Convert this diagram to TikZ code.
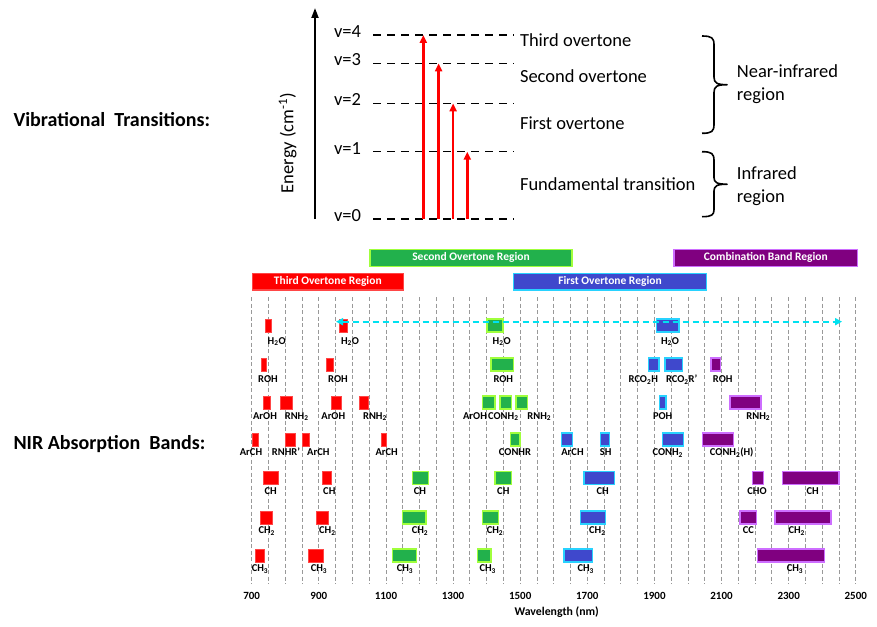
\documentclass[tikz,border=0pt]{standalone}
\usepackage{fontspec}
\setmainfont{Carlito}
\usetikzlibrary{arrows.meta}
\definecolor{bandred}{RGB}{255,0,0}
\definecolor{bandredline}{RGB}{255,70,70}
\definecolor{bandgreen}{RGB}{34,177,76}
\definecolor{bandgreenline}{RGB}{160,255,60}
\definecolor{bandblue}{RGB}{63,72,204}
\definecolor{bandblueline}{RGB}{40,210,255}
\definecolor{bandpurple}{RGB}{128,0,128}
\definecolor{bandpurpleline}{RGB}{205,110,255}
\definecolor{watercyan}{RGB}{0,225,240}

\begin{document}
\begin{tikzpicture}[x=1pt,y=-1pt,
  toptext/.style={inner sep=0pt,font=\fontsize{18.5}{22.7}\selectfont},
  sidelabel/.style={inner sep=0pt,font=\bfseries\fontsize{20}{24}\selectfont},
  level/.style={line width=1.3pt,dash pattern=on 8pt off 6pt},
  trans/.style={red,line width=2.5pt,-{Triangle[length=8pt,width=7pt]}},
  curly/.style={line width=1.6pt,line join=round},
  gridline/.style={gray!80,line width=0.8pt,dash pattern=on 4pt off 2.5pt},
  hdr/.style={line width=1.3pt,inner sep=0pt,text=white,minimum height=16.7pt,
    font=\bfseries\fontsize{11.5}{13}\selectfont},
  redbar/.style={fill=bandred,draw=bandredline,line width=1pt},
  greenbar/.style={fill=bandgreen,draw=bandgreenline,line width=1.3pt},
  bluebar/.style={fill=bandblue,draw=bandblueline,line width=1.3pt},
  purplebar/.style={fill=bandpurple,draw=bandpurpleline,line width=1.3pt},
  lbl/.style={inner sep=0pt,anchor=mid,font=\bfseries\fontsize{10.5}{12}\selectfont},
  ticklabel/.style={inner sep=0pt,anchor=mid,font=\bfseries\fontsize{11}{13}\selectfont}]
\useasboundingbox (0,0) rectangle (877,626);

%SIDE LABELS
\node[sidelabel,anchor=mid west] (vib) at (13.3,124) {Vibrational\ \ Transitions:};
\node[sidelabel,anchor=mid west] (nir) at (13.3,446.7) {NIR Absorption\ \ Bands:};

%ENERGY AXIS
\coordinate (e0) at (315,219);
\coordinate (e1) at (315,8);
\draw[line width=2pt,-{Triangle[length=10pt,width=7pt]}] (e0) -- (e1);
\node[toptext,rotate=90,anchor=mid] (energy) at (291,143) {Energy (cm\textsuperscript{-1})};

%LEVELS
\foreach \y/\v in {219/0,151.7/1,103.3/2,63.3/3,35/4}{
  \node[toptext,anchor=mid] (lv\v) at (347.5,\y) {v=\v};
  \draw[level] (373,\y) -- (514,\y);
}

%TRANSITIONS
\foreach \x/\y [count=\i] in {423.3/35,438.6/63.3,453.1/103.3,467.3/151.7}{
  \coordinate (lo\i) at (\x,219);
  \coordinate (up\i) at (\x,\y);
  \draw[trans] (lo\i) -- (up\i);
}

\node[toptext,anchor=mid west] (third) at (519.8,44.3) {Third overtone};
\node[toptext,anchor=mid west] (second) at (519.8,80) {Second overtone};
\node[toptext,anchor=mid west] (first) at (519.8,126.7) {First overtone};
\node[toptext,anchor=mid west] (fund) at (519.8,188.3) {Fundamental transition};

%BRACES
\draw[curly] (702,36) .. controls (712,36) and (714,38) .. (714,45) -- (714,77)
  .. controls (714,83) and (717,84.7) .. (727,84.7)
  .. controls (717,84.7) and (714,86.4) .. (714,92.4) -- (714,124.3)
  .. controls (714,131.3) and (712,133.3) .. (702,133.3);
\draw[curly] (702,151.7) .. controls (712,151.7) and (714,153.7) .. (714,160.7) -- (714,177.5)
  .. controls (714,182.5) and (717,184.2) .. (727,184.2)
  .. controls (717,184.2) and (714,185.9) .. (714,190.9) -- (714,209.7)
  .. controls (714,214.7) and (712,216.7) .. (702,216.7);
\node[toptext,align=left,anchor=west] (nearir) at (736.7,84) {Near-infrared\\region};
\node[toptext,align=left,anchor=west] (ir) at (736.7,186.5) {Infrared\\region};

%REGION HEADERS
\node[hdr,fill=bandgreen,draw=bandgreenline,minimum width=202pt] (secreg) at (471,257.8) {Second Overtone Region};
\node[hdr,fill=bandpurple,draw=bandpurpleline,minimum width=183.7pt] (combreg) at (765.8,257.8) {Combination Band Region};
\node[hdr,fill=bandred,draw=bandredline,minimum width=151pt] (thirdreg) at (327.8,281.7) {Third Overtone Region};
\node[hdr,fill=bandblue,draw=bandblueline,minimum width=193.4pt] (firstreg) at (610,281.7) {First Overtone Region};

%GRID
\foreach \i in {0,...,36}
  \draw[gridline] ({251.7+\i*16.78},297) -- ({251.7+\i*16.78},584);

%BANDS
\foreach \xa/\xb/\ya in {265.7/271.7/319,339/347.7/319,261/266.7/358,326/333.3/358,
  263.3/270/396,280.7/292.3/396,331.7/341/396,359.3/368.3/396,
  252.3/258.3/433,285.7/295/433,302.3/309.3/433,381/386.7/433,
  263.3/278.3/471.5,322.7/331.7/471.5,260.7/272.3/511,316/328.3/511,
  255/264/549,308.3/323.3/549}
  \draw[redbar] (\xa,\ya) rectangle (\xb,\ya+13);
\foreach \xa/\xb/\ya in {487/503/319,491/513.3/358,482.7/495/396,500/511.7/396,
  516/527.7/396,510.7/520/433,412.7/428.3/471.5,495/511.7/471.5,
  402.7/426/511,482.7/498.3/511,392.7/416.7/549,477.7/491/549}
  \draw[greenbar] (\xa,\ya) rectangle (\xb,\ya+13);
\foreach \xa/\xb/\ya in {656.7/679/319,648.3/659/358,665/682.3/358,659.3/666/396,
  561.7/572.3/433,600.7/609.3/433,662.7/683.3/433,584/614.3/471.5,
  580.7/605.7/511,564/592.3/549}
  \draw[bluebar] (\xa,\ya) rectangle (\xb,\ya+13);
\foreach \xa/\xb/\ya in {711/720.7/358,730/761/396,702.3/733.3/433,
  752.7/763.3/471.5,782.7/839/471.5,740/756.7/511,775/831/511,757.7/824.3/549}
  \draw[purplebar] (\xa,\ya) rectangle (\xb,\ya+13);

%WATER ARROW
\coordinate (wa) at (336,321.7);
\coordinate (wb) at (842,321.7);
\draw[watercyan,line width=2pt,dash pattern=on 6pt off 4pt,
  {Triangle[length=7pt,width=7pt]}-{Triangle[length=7pt,width=7pt]}] (wa) -- (wb);

%BAND LABELS
\foreach \x/\y/\t [count=\i] in {
  276.7/341.7/{H\textsubscript{2}O},350/341.7/{H\textsubscript{2}O},
  501.7/341.7/{H\textsubscript{2}O},670/341.7/{H\textsubscript{2}O},
  268/380/ROH,338/380/ROH,503.3/380/ROH,643.3/380/{RCO\textsubscript{2}H},
  681.7/380/{RCO\textsubscript{2}R'},722.7/380/ROH,
  265/416.7/ArOH,296.7/416.7/{RNH\textsubscript{2}},333.3/416.7/ArOH,
  375/416.7/{RNH\textsubscript{2}},475/416.7/ArOH,503.3/416.7/{CONH\textsubscript{2}},
  539.3/416.7/{RNH\textsubscript{2}},662.7/416.7/POH,758.3/416.7/{RNH\textsubscript{2}},
  251/453/ArCH,286/453/RNHR',318.3/453/ArCH,386.7/453/ArCH,515/453/CONHR,
  572.5/453/ArCH,605.7/453/SH,667.7/453/{CONH\textsubscript{2}},
  731.7/453/{CONH\textsubscript{2}(H)},
  270.7/491.7/CH,329.3/491.7/CH,420/491.7/CH,503.3/491.7/CH,602.7/491.7/CH,
  757/491.7/CHO,812.7/491.7/CH,
  266.7/531/{CH\textsubscript{2}},327.3/531/{CH\textsubscript{2}},420/531/{CH\textsubscript{2}},
  495/531/{CH\textsubscript{2}},597.3/531/{CH\textsubscript{2}},748.3/531/CC,
  796.7/531/{CH\textsubscript{2}},
  260/569/{CH\textsubscript{3}},319/569/{CH\textsubscript{3}},405/569/{CH\textsubscript{3}},
  487.7/569/{CH\textsubscript{3}},585.7/569/{CH\textsubscript{3}},795/569/{CH\textsubscript{3}}}
  \node[lbl] (lab\i) at (\x,\y) {\t};

%WAVELENGTH AXIS
\foreach \w [count=\i] in {700,900,...,2500}
  \node[ticklabel] (tick\i) at ({251.7+(\w-700)*0.3356},597) {\w};
\node[ticklabel,font=\bfseries\fontsize{11.8}{14}\selectfont] (wlen) at (556.7,613) {Wavelength (nm)};
\end{tikzpicture}
\end{document}
